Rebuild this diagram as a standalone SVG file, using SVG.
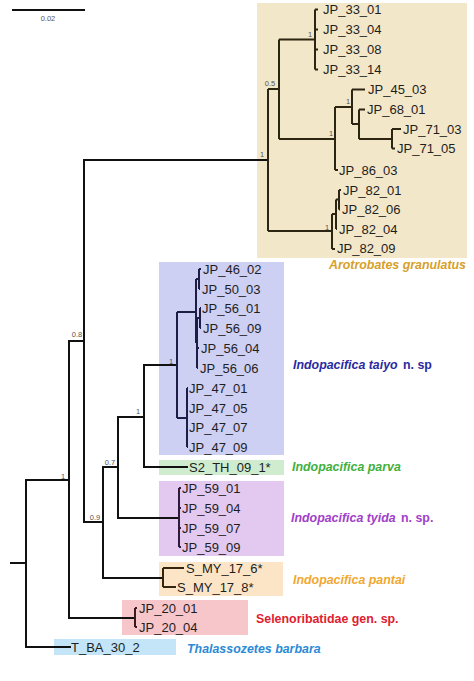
<svg xmlns="http://www.w3.org/2000/svg" width="474" height="681" viewBox="0 0 474 681">
<style>
.br{fill:none;stroke:#111;stroke-width:2;stroke-linecap:square}
.bt{fill:none;stroke:#2b2511;stroke-width:2}
.bb{fill:none;stroke:#1d1d45;stroke-width:2}
.bp{fill:none;stroke:#2e1a3a;stroke-width:2}
.bo{fill:none;stroke:#33250f;stroke-width:2}
.bk{fill:none;stroke:#3a1a1c;stroke-width:2}
.lf{font-family:"Liberation Sans",Arial,sans-serif;font-size:13px;fill:#1e1e1e}
.sv{font-family:"Liberation Sans",Arial,sans-serif;font-size:7.5px;fill:#555;text-anchor:middle}
.sp{font-family:"Liberation Sans",Arial,sans-serif;font-size:12.4px;font-weight:bold}
.it{font-style:italic}
</style>
<rect width="474" height="681" fill="#fff"/>
<g id="clade-boxes">
<rect id="box-arotrobates" x="257" y="3" width="210" height="255" fill="#f3e7c9"/>
<rect id="box-taiyo" x="159" y="262" width="125" height="193" fill="#cdcff3"/>
<rect id="box-parva" x="159" y="460" width="125" height="15" fill="#cfeccf"/>
<rect id="box-tyida" x="159" y="481" width="125" height="75" fill="#e3c8ef"/>
<rect id="box-pantai" x="159" y="562" width="124" height="34" fill="#fbe5c6"/>
<rect id="box-seleno" x="122" y="600" width="126" height="35" fill="#f7c6cb"/>
<rect id="box-thalasso" x="54" y="639" width="122" height="16" fill="#c3e5f7"/>
</g>
<g id="connectors">
<path class="br" d="M13,10H84"/>
<path class="br" d="M11,563H26M26,480V647M26,480H69M26,647H70"/>
<path class="br" d="M69,341V618M69,341H84M69,618H135"/>
<path class="br" d="M84,160V522M84,160H268M84,522H103"/>
<path class="br" d="M103,467V578M103,467H118M103,578H163"/>
<path class="br" d="M118,417V518M118,417H144M118,518H179"/>
<path class="br" d="M144,365V467M144,365H177M144,467H187"/>
<path class="bt" d="M268,89V231M268,89H279M268,231H332"/>
<path class="bt" d="M279,39.5V139M279,39.5H315M279,139H335"/>
<path class="bt" d="M315,9.5V69.5M315,9.5H318M315,29.5H318M315,49.5H318M315,69.5H318"/>
<path class="bt" d="M335,107V170M335,107H352M335,170H338"/>
<path class="bt" d="M352,89.5V124M352,89.5H365M352,124H359"/>
<path class="bt" d="M359,109.5V139M359,109.5H365M359,139H392"/>
<path class="bt" d="M392,129V148.5M392,129H401M392,148.5H395"/>
<path class="bt" d="M332,214V249M332,214H336M332,249H335"/>
<path class="bt" d="M336,199.5V229M336,199.5H339M336,229H337"/>
<path class="bt" d="M339,190V209.5M339,190H341M339,209.5H340"/>
<path class="bb" d="M177,312V418M177,312H196M177,418H187"/>
<path class="bb" d="M196,279V343M196,279H199M196,343H197"/>
<path class="bb" d="M199,269V289M199,269H201M199,289H200"/>
<path class="bb" d="M197,318V368M197,318H200M197,348H199M197,368H198"/>
<path class="bb" d="M200,308V328M200,308H201M200,328H201"/>
<path class="bb" d="M187,388V447M187,388H188M187,408H188M187,427.5H188M187,447H188"/>
<path class="bp" d="M179,488V547M179,488H181M179,508H181M179,528H181M179,547H181"/>
<path class="bo" d="M163,568V587M163,568H184M163,587H176"/>
<path class="bk" d="M135,608V627M135,608H137M135,627H137"/>
</g>
<g id="support-values">
<text class="sv" x="48" y="21">0.02</text>
<text class="sv" x="270" y="86">0.5</text>
<text class="sv" x="310" y="37">1</text>
<text class="sv" x="331" y="136">1</text>
<text class="sv" x="348" y="104">1</text>
<text class="sv" x="262" y="157">1</text>
<text class="sv" x="327" y="230">1</text>
<text class="sv" x="77" y="337">0.8</text>
<text class="sv" x="171" y="364">1</text>
<text class="sv" x="138" y="414">1</text>
<text class="sv" x="110" y="465">0.7</text>
<text class="sv" x="95" y="520">0.9</text>
<text class="sv" x="63" y="479">1</text>
</g>
<g id="leaves">
<g id="JP_33_01"><text class="lf" x="323" y="14">JP_33_01</text></g>
<g id="JP_33_04"><text class="lf" x="323" y="34">JP_33_04</text></g>
<g id="JP_33_08"><text class="lf" x="323" y="54">JP_33_08</text></g>
<g id="JP_33_14"><text class="lf" x="323" y="74">JP_33_14</text></g>
<g id="JP_45_03"><text class="lf" x="368" y="94">JP_45_03</text></g>
<g id="JP_68_01"><text class="lf" x="367" y="114">JP_68_01</text></g>
<g id="JP_71_03"><text class="lf" x="403" y="133.5">JP_71_03</text></g>
<g id="JP_71_05"><text class="lf" x="397" y="153">JP_71_05</text></g>
<g id="JP_86_03"><text class="lf" x="339" y="174.5">JP_86_03</text></g>
<g id="JP_82_01"><text class="lf" x="343" y="194.5">JP_82_01</text></g>
<g id="JP_82_06"><text class="lf" x="342" y="214">JP_82_06</text></g>
<g id="JP_82_04"><text class="lf" x="339" y="233.5">JP_82_04</text></g>
<g id="JP_82_09"><text class="lf" x="337" y="253">JP_82_09</text></g>
<g id="JP_46_02"><text class="lf" x="203" y="273.5">JP_46_02</text></g>
<g id="JP_50_03"><text class="lf" x="202" y="293.5">JP_50_03</text></g>
<g id="JP_56_01"><text class="lf" x="202" y="313">JP_56_01</text></g>
<g id="JP_56_09"><text class="lf" x="203" y="332.5">JP_56_09</text></g>
<g id="JP_56_04"><text class="lf" x="201" y="352.5">JP_56_04</text></g>
<g id="JP_56_06"><text class="lf" x="200" y="372.5">JP_56_06</text></g>
<g id="JP_47_01"><text class="lf" x="189" y="392.5">JP_47_01</text></g>
<g id="JP_47_05"><text class="lf" x="189" y="412.5">JP_47_05</text></g>
<g id="JP_47_07"><text class="lf" x="189" y="432">JP_47_07</text></g>
<g id="JP_47_09"><text class="lf" x="189" y="451.5">JP_47_09</text></g>
<g id="S2_TH_09_1"><text class="lf" x="189" y="471.5">S2_TH_09_1*</text></g>
<g id="JP_59_01"><text class="lf" x="182" y="492.5">JP_59_01</text></g>
<g id="JP_59_04"><text class="lf" x="182" y="512.5">JP_59_04</text></g>
<g id="JP_59_07"><text class="lf" x="182" y="532.5">JP_59_07</text></g>
<g id="JP_59_09"><text class="lf" x="182" y="551.5">JP_59_09</text></g>
<g id="S_MY_17_6"><text class="lf" x="186" y="572.5">S_MY_17_6*</text></g>
<g id="S_MY_17_8"><text class="lf" x="177" y="591.5">S_MY_17_8*</text></g>
<g id="JP_20_01"><text class="lf" x="139" y="612.5">JP_20_01</text></g>
<g id="JP_20_04"><text class="lf" x="139" y="631.5">JP_20_04</text></g>
<g id="T_BA_30_2"><text class="lf" x="71" y="651.5">T_BA_30_2</text></g>
</g>
<g id="species-labels">
<g id="label-arotrobates"><text class="sp it" x="329" y="269" fill="#d6a02a">Arotrobates granulatus</text></g>
<g id="label-taiyo"><text class="sp" x="293" y="369" fill="#2a2aa0"><tspan class="it">Indopacifica taiyo</tspan><tspan x="403">n. sp</tspan></text></g>
<g id="label-parva"><text class="sp it" x="292" y="471" fill="#40b040">Indopacifica parva</text></g>
<g id="label-tyida"><text class="sp" x="291" y="522" fill="#a040c8"><tspan class="it">Indopacifica tyida</tspan><tspan x="401">n. sp.</tspan></text></g>
<g id="label-pantai"><text class="sp it" x="293" y="584" fill="#f0a830">Indopacifica pantai</text></g>
<g id="label-seleno"><text class="sp" x="256" y="623" fill="#e02030">Selenoribatidae gen. sp.</text></g>
<g id="label-thalasso"><text class="sp it" x="187" y="653" fill="#2a8ad6">Thalassozetes barbara</text></g>
</g>
</svg>
